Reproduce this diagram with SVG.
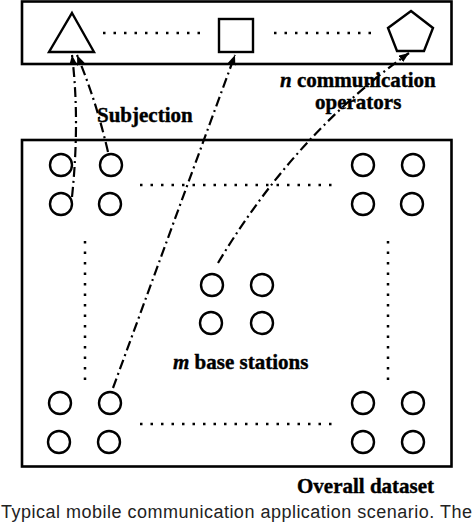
<svg xmlns="http://www.w3.org/2000/svg" width="474" height="523" viewBox="0 0 474 523">
<style>
.frame{fill:none;stroke:#000;stroke-width:2.6}
.shape{fill:none;stroke:#000;stroke-width:2.4}
.bs{fill:none;stroke:#000;stroke-width:2.4}
.dots{fill:none;stroke:#000;stroke-width:2.5;stroke-dasharray:2.5 8}
.link{fill:none;stroke:#000;stroke-width:2.2;stroke-dasharray:10 4 2 4}
.lbl{font-family:"Liberation Serif","Times New Roman",serif;font-weight:bold;font-size:21px;fill:#000;stroke:#000;stroke-width:0.4}
.cap{font-family:"Liberation Sans",Arial,sans-serif;font-size:18px;fill:#222}
</style>
<defs>
<marker id="ah" markerUnits="userSpaceOnUse" markerWidth="12" markerHeight="10" refX="10" refY="4" orient="auto">
<path d="M0,0 L10,4 L0,8 Z" fill="#000"/>
</marker>
</defs>
<rect width="474" height="523" fill="#fff"/>

<g id="operators">
<rect class="frame" x="22" y="1.5" width="429.5" height="62.5"/>
<polygon id="op-triangle" class="shape" points="72,13 94,52 49,52"/>
<rect id="op-square" class="shape" x="219" y="19" width="34" height="33"/>
<polygon id="op-pentagon" class="shape" points="411,11 433,28 424,51 397,51 388,28"/>
<line class="dots" x1="103" y1="33" x2="205" y2="33"/>
<line class="dots" x1="274" y1="33" x2="376" y2="33"/>
</g>

<g id="dataset">
<rect class="frame" x="22" y="140" width="429.5" height="326.5"/>
</g>

<g id="bs-topleft">
<circle class="bs" cx="61" cy="165" r="11"/>
<circle class="bs" cx="111" cy="165" r="11"/>
<circle class="bs" cx="61" cy="204" r="11"/>
<circle class="bs" cx="110" cy="204" r="11"/>
</g>
<g id="bs-topright">
<circle class="bs" cx="363" cy="165" r="11"/>
<circle class="bs" cx="413" cy="165" r="11"/>
<circle class="bs" cx="363" cy="204" r="11"/>
<circle class="bs" cx="412" cy="204" r="11"/>
</g>
<g id="bs-center">
<circle class="bs" cx="212" cy="285" r="11"/>
<circle class="bs" cx="262" cy="285" r="11"/>
<circle class="bs" cx="211" cy="323" r="11"/>
<circle class="bs" cx="262" cy="323" r="11"/>
</g>
<g id="bs-bottomleft">
<circle class="bs" cx="60" cy="403" r="11"/>
<circle class="bs" cx="110" cy="403" r="11"/>
<circle class="bs" cx="59" cy="442" r="11"/>
<circle class="bs" cx="109" cy="442" r="11"/>
</g>
<g id="bs-bottomright">
<circle class="bs" cx="363" cy="403" r="11"/>
<circle class="bs" cx="413" cy="403" r="11"/>
<circle class="bs" cx="363" cy="442" r="11"/>
<circle class="bs" cx="413" cy="442" r="11"/>
</g>
<g id="ellipsis-dots">
<line class="dots" x1="140" y1="185" x2="338" y2="185"/>
<line class="dots" x1="140" y1="424" x2="338" y2="424"/>
<line class="dots" x1="85" y1="241" x2="85" y2="380"/>
<line class="dots" x1="388" y1="241" x2="388" y2="380"/>
</g>

<g id="connectors">
<path class="link" d="M72,197 Q80,120 72,55" marker-end="url(#ah)"/>
<path class="link" d="M108,152 Q96,100 77,55" marker-end="url(#ah)"/>
<path class="link" d="M113,388 L235,55" marker-end="url(#ah)"/>
<path class="link" d="M218,263 Q295,134 409,53" marker-end="url(#ah)"/>
</g>

<g id="labels">
<text class="lbl" x="97" y="122">Subjection</text>
<text class="lbl" x="280" y="87"><tspan font-style="italic">n</tspan> communication</text>
<text class="lbl" x="315" y="109">operators</text>
<text class="lbl" x="173" y="369"><tspan font-style="italic">m</tspan> base stations</text>
<text class="lbl" x="297" y="493">Overall dataset</text>
<text class="cap" x="1" y="518" textLength="471" lengthAdjust="spacing">Typical mobile communication application scenario. The</text>
</g>
</svg>
